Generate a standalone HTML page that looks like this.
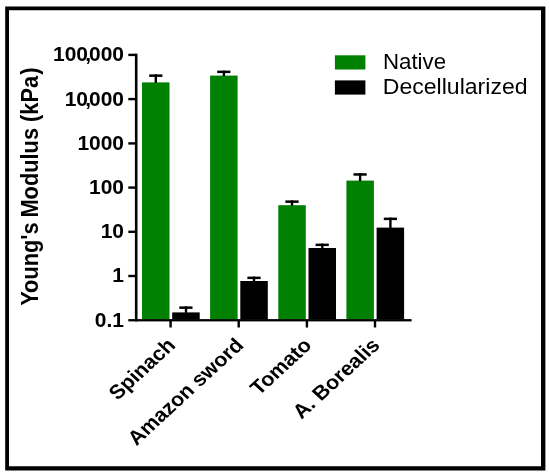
<!DOCTYPE html>
<html><head><meta charset="utf-8"><title>Young's Modulus chart</title>
<style>html,body{margin:0;padding:0;background:#fff}svg{display:block}text{font-family:"Liberation Sans",Arial,sans-serif;fill:#000}.b{font-weight:bold}</style></head>
<body>
<svg width="550" height="476" viewBox="0 0 550 476">
<rect width="550" height="476" fill="#fff"/>
<path fill="#000" fill-rule="evenodd" d="M5.2 6.5H545.4V470.6H5.2Z M9 10.2V466.2H541V10.2Z"/>
<rect x="142.0" y="82.4" width="27.5" height="237.1" fill="#008000"/>
<rect x="172.2" y="312.4" width="27.5" height="7.1" fill="#000"/>
<rect x="149.2" y="74.4" width="13.2" height="2.5" fill="#000"/><rect x="154.6" y="74.4" width="2.4" height="8.5" fill="#000"/>
<rect x="179.3" y="306.4" width="13.2" height="2.5" fill="#000"/><rect x="184.8" y="306.4" width="2.4" height="6.5" fill="#000"/>
<rect x="210.1" y="75.6" width="27.5" height="243.9" fill="#008000"/>
<rect x="240.3" y="281.0" width="27.5" height="38.5" fill="#000"/>
<rect x="217.2" y="70.6" width="13.2" height="2.5" fill="#000"/><rect x="222.7" y="70.6" width="2.4" height="5.5" fill="#000"/>
<rect x="247.4" y="276.6" width="13.2" height="2.5" fill="#000"/><rect x="252.8" y="276.6" width="2.4" height="4.9" fill="#000"/>
<rect x="278.3" y="205.2" width="27.5" height="114.3" fill="#008000"/>
<rect x="308.5" y="248.0" width="27.5" height="71.5" fill="#000"/>
<rect x="285.4" y="200.4" width="13.2" height="2.5" fill="#000"/><rect x="290.8" y="200.4" width="2.4" height="5.3" fill="#000"/>
<rect x="315.6" y="243.6" width="13.2" height="2.5" fill="#000"/><rect x="321.1" y="243.6" width="2.4" height="4.9" fill="#000"/>
<rect x="346.4" y="180.6" width="27.5" height="138.9" fill="#008000"/>
<rect x="376.6" y="227.6" width="27.5" height="91.9" fill="#000"/>
<rect x="353.5" y="173.2" width="13.2" height="2.5" fill="#000"/><rect x="358.9" y="173.2" width="2.4" height="7.9" fill="#000"/>
<rect x="383.8" y="217.6" width="13.2" height="2.5" fill="#000"/><rect x="389.2" y="217.6" width="2.4" height="10.5" fill="#000"/>
<rect x="134.9" y="53.7" width="2.6" height="267.7" fill="#000"/>
<rect x="128.3" y="319.1" width="283.3" height="2.3" fill="#000"/>
<rect x="128.3" y="53.7" width="8" height="2.4" fill="#000"/>
<rect x="128.3" y="97.9" width="8" height="2.4" fill="#000"/>
<rect x="128.3" y="142.2" width="8" height="2.4" fill="#000"/>
<rect x="128.3" y="186.4" width="8" height="2.4" fill="#000"/>
<rect x="128.3" y="230.6" width="8" height="2.4" fill="#000"/>
<rect x="128.3" y="274.8" width="8" height="2.4" fill="#000"/>
<rect x="169.4" y="320" width="2.4" height="7.5" fill="#000"/>
<rect x="237.5" y="320" width="2.4" height="7.5" fill="#000"/>
<rect x="305.7" y="320" width="2.4" height="7.5" fill="#000"/>
<rect x="373.8" y="320" width="2.4" height="7.5" fill="#000"/>
<text class="b" transform="translate(124 61.3) scale(1.07 1)" text-anchor="end" font-size="19.6">100<tspan dx="-2.7">,</tspan><tspan dx="-1.8">000</tspan></text>
<text class="b" transform="translate(124 105.5) scale(1.07 1)" text-anchor="end" font-size="19.6">10<tspan dx="-2.7">,</tspan><tspan dx="-1.8">000</tspan></text>
<text class="b" transform="translate(124 149.8) scale(1.07 1)" text-anchor="end" font-size="19.6">1000</text>
<text class="b" transform="translate(124 194.0) scale(1.07 1)" text-anchor="end" font-size="19.6">100</text>
<text class="b" transform="translate(124 238.2) scale(1.07 1)" text-anchor="end" font-size="19.6">10</text>
<text class="b" transform="translate(124 282.4) scale(1.07 1)" text-anchor="end" font-size="19.6">1</text>
<text class="b" transform="translate(124 326.7) scale(1.07 1)" text-anchor="end" font-size="19.6">0.1</text>
<text class="b" transform="translate(37.7 305.8) scale(1.12 1) rotate(-90)" font-size="21.8">Young's<tspan dx="-1.2"> Modulus (kPa</tspan><tspan dx="1.2">)</tspan></text>
<rect x="334.9" y="55.3" width="30.5" height="14.2" fill="#008000"/>
<rect x="334.9" y="80.4" width="30.5" height="14.2" fill="#000"/>
<text transform="translate(383 68.5) scale(1.05 1)" font-size="21.2">Native</text>
<text transform="translate(382.8 94.4) scale(1.088 1)" font-size="21.2">Decellularized</text>
<text class="b" transform="translate(176.6 346.4) scale(1.085 1) rotate(-45)" text-anchor="end" font-size="19.85">Spinach</text>
<text class="b" transform="translate(244.7 346.4) scale(1.085 1) rotate(-45)" text-anchor="end" font-size="19.85">Amazon sword</text>
<text class="b" transform="translate(312.9 346.4) scale(1.085 1) rotate(-45)" text-anchor="end" font-size="19.85">Tomato</text>
<text class="b" transform="translate(381.0 346.4) scale(1.085 1) rotate(-45)" text-anchor="end" font-size="19.85">A. Borealis</text>
</svg>
</body></html>
